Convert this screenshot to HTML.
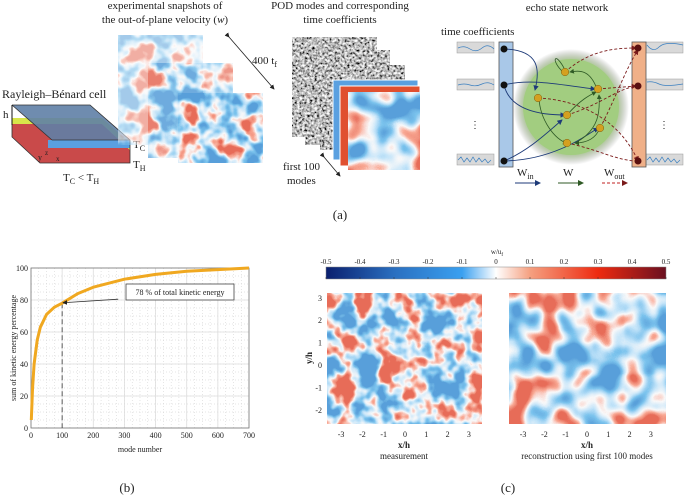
<!DOCTYPE html>
<html><head><meta charset="utf-8"><style>
body{margin:0;background:#fff;width:685px;height:498px;overflow:hidden;font-family:"Liberation Serif",serif;}
svg text{font-family:"Liberation Serif",serif;fill:#222;}
</style></head><body>
<svg id="fig" width="685" height="498" viewBox="0 0 685 498">
<defs>
 <filter id="rb1" x="0" y="0" width="100%" height="100%">
  <feTurbulence type="fractalNoise" baseFrequency="0.045" numOctaves="3" seed="3"/>
  <feColorMatrix type="matrix" values="1 0 0 0 0  1 0 0 0 0  1 0 0 0 0  0 0 0 0 1"/>
  <feComponentTransfer><feFuncR type="linear" slope="3" intercept="-1.05"/><feFuncG type="linear" slope="3" intercept="-1.05"/><feFuncB type="linear" slope="3" intercept="-1.05"/></feComponentTransfer>
  <feComponentTransfer><feFuncR type="table" tableValues="0.1 0.2 0.55 0.95 0.95 0.8"/><feFuncG type="table" tableValues="0.35 0.55 0.78 0.95 0.4 0.15"/><feFuncB type="table" tableValues="0.7 0.85 0.95 0.95 0.3 0.1"/></feComponentTransfer>
 </filter>
 <filter id="rb2" x="0" y="0" width="100%" height="100%">
  <feTurbulence type="fractalNoise" baseFrequency="0.032" numOctaves="2" seed="3"/>
  <feColorMatrix type="matrix" values="1 0 0 0 0  1 0 0 0 0  1 0 0 0 0  0 0 0 0 1"/>
  <feComponentTransfer><feFuncR type="linear" slope="3" intercept="-1.05"/><feFuncG type="linear" slope="3" intercept="-1.05"/><feFuncB type="linear" slope="3" intercept="-1.05"/></feComponentTransfer>
  <feComponentTransfer><feFuncR type="table" tableValues="0.1 0.2 0.55 0.95 0.95 0.8"/><feFuncG type="table" tableValues="0.35 0.55 0.78 0.95 0.4 0.15"/><feFuncB type="table" tableValues="0.7 0.85 0.95 0.95 0.3 0.1"/></feComponentTransfer>
 </filter>
 <filter id="gray" x="0" y="0" width="100%" height="100%">
  <feTurbulence type="fractalNoise" baseFrequency="0.4" numOctaves="2" seed="5"/>
  <feColorMatrix type="matrix" values="2 0 0 0 -0.5  2 0 0 0 -0.5  2 0 0 0 -0.5  0 0 0 0 1"/>
 </filter>
 <radialGradient id="glow"><stop offset="0.75" stop-color="#9fca7a"/><stop offset="1" stop-color="#777" stop-opacity="0"/></radialGradient>
 <linearGradient id="cmap" x1="0" x2="1"><stop offset="0" stop-color="#0a1f6e"/><stop offset="0.2" stop-color="#2a6fc0"/><stop offset="0.4" stop-color="#3aa0f0"/><stop offset="0.5" stop-color="#ffffff"/><stop offset="0.6" stop-color="#f5a080"/><stop offset="0.8" stop-color="#ee2a10"/><stop offset="1" stop-color="#6a1020"/></linearGradient>
 <marker id="ah" markerWidth="6" markerHeight="6" refX="5" refY="3" orient="auto"><path d="M0,0L6,3L0,6z" fill="#222"/></marker>
 <marker id="ab" markerWidth="6" markerHeight="6" refX="5" refY="3" orient="auto"><path d="M0,0L6,3L0,6z" fill="#1d3a78"/></marker>
 <marker id="ag" markerWidth="6" markerHeight="6" refX="5" refY="3" orient="auto"><path d="M0,0L6,3L0,6z" fill="#2f5a25"/></marker>
 <marker id="ar" markerWidth="6" markerHeight="6" refX="5" refY="3" orient="auto"><path d="M0,0L6,3L0,6z" fill="#7a1a1a"/></marker>
</defs>

<!-- (a) illustration -->
<g>
 <text x="2" y="98" font-size="12">Rayleigh–Bénard cell</text>
 <g>
  <polygon points="12,137 40,163 130,163 130,150 102,124 12,124" fill="#c94a4a"/>
  <polygon points="12,124 102,124 130,150 130,143 102,118 12,118" fill="#d8e64a"/>
  <polygon points="12,105 90,105 130,140 52,140" fill="#5f7fa6" opacity="0.9"/>
  <rect x="48" y="140" width="82" height="8" fill="#5aa0e0"/>
  <polyline points="12,105 90,105 130,140 130,163 40,163 12,137 12,105" fill="none" stroke="#333" stroke-width="0.8"/>
  <line x1="12" y1="105" x2="52" y2="140" stroke="#333" stroke-width="0.8"/>
  <line x1="52" y1="140" x2="130" y2="140" stroke="#333" stroke-width="0.8"/>
  <line x1="12" y1="105" x2="12" y2="125" stroke="#111" stroke-width="1"/>
  <text x="3" y="118" font-size="11">h</text>
  <text x="38" y="160" font-size="8">y</text><text x="45" y="155" font-size="7">z</text><text x="56" y="161" font-size="7">x</text>
  <text x="133" y="148" font-size="11">T<tspan font-size="8" dy="3">C</tspan></text>
  <text x="133" y="168" font-size="11">T<tspan font-size="8" dy="3">H</tspan></text>
  <text x="63" y="181" font-size="11">T<tspan font-size="8" dy="3">C</tspan><tspan dy="-3"> &lt; T</tspan><tspan font-size="8" dy="3">H</tspan></text>
 </g>
 <text x="165" y="9" font-size="11" text-anchor="middle">experimental snapshots of</text>
 <text x="165" y="23" font-size="11" text-anchor="middle">the out-of-plane velocity (<tspan font-style="italic">w</tspan>)</text>
 <g>
  <rect x="118" y="35" width="85" height="110" filter="url(#rb1)" opacity="0.55"/>
  <rect x="148" y="63" width="85" height="95" filter="url(#rb1)" opacity="0.7"/>
  <rect x="178" y="93" width="85" height="70" filter="url(#rb1)" stroke="#999" stroke-width="0.5"/>
 </g>
 <line x1="229" y1="37" x2="274" y2="89" stroke="#222" stroke-width="0.8" marker-end="url(#ah)" marker-start="url(#ah)"/>
 <text x="252" y="64" font-size="11">400 t<tspan font-size="8" dy="3">f</tspan></text>
 <text x="340" y="9" font-size="11" text-anchor="middle">POD modes and corresponding</text>
 <text x="340" y="23" font-size="11" text-anchor="middle">time coefficients</text>
 <g>
  <rect x="292" y="37" width="85" height="100" filter="url(#gray)"/>
  <rect x="305" y="50" width="85" height="95" filter="url(#gray)" stroke="#fff" stroke-width="1"/>
  <rect x="320" y="65" width="85" height="85" filter="url(#gray)" stroke="#fff" stroke-width="1"/>
  <rect x="333" y="80" width="85" height="80" fill="#5aa0e0" stroke="#fff"/>
  <rect x="340" y="86" width="80" height="80" fill="#e05030" stroke="#fff"/>
  <rect x="348" y="92" width="72" height="78" filter="url(#rb2)" stroke="#999" stroke-width="0.5"/>
 </g>
 <text x="283" y="170" font-size="11">first 100</text>
 <text x="287" y="184" font-size="11">modes</text>
 <line x1="324" y1="157" x2="340" y2="176" stroke="#222" stroke-width="0.8" marker-end="url(#ah)" marker-start="url(#ah)"/>
 <!-- ESN -->
 <g>
  <text x="567" y="11" font-size="11" text-anchor="middle">echo state network</text>
  <text x="441" y="35" font-size="11">time coefficients</text>
  <rect x="457" y="42" width="37" height="11" fill="#d9d9d9" stroke="#999" stroke-width="0.5"/>
  <rect x="457" y="79" width="37" height="11" fill="#d9d9d9" stroke="#999" stroke-width="0.5"/>
  <rect x="457" y="154" width="37" height="11" fill="#d9d9d9" stroke="#999" stroke-width="0.5"/>
  <path d="M458,48 q6,-3 12,1 t12,-1 t12,1" fill="none" stroke="#3a7fc0" stroke-width="0.7"/>
  <path d="M458,85 q6,-2 12,0 t12,-1 t12,1" fill="none" stroke="#3a7fc0" stroke-width="0.7"/>
  <path d="M458,160 l3,-3 l3,5 l3,-4 l3,4 l3,-5 l3,5 l3,-4 l3,4 l3,-3 l3,4 l3,-3 " fill="none" stroke="#3a7fc0" stroke-width="0.7"/>
  <rect x="646" y="42" width="37" height="11" fill="#d9d9d9" stroke="#999" stroke-width="0.5"/>
  <rect x="646" y="79" width="37" height="11" fill="#d9d9d9" stroke="#999" stroke-width="0.5"/>
  <rect x="646" y="154" width="37" height="11" fill="#d9d9d9" stroke="#999" stroke-width="0.5"/>
  <path d="M647,45 q6,8 12,2 t24,-2" fill="none" stroke="#3a7fc0" stroke-width="0.7"/>
  <path d="M647,82 q6,-1 12,2 t24,0" fill="none" stroke="#3a7fc0" stroke-width="0.7"/>
  <path d="M647,160 l3,-3 l3,5 l3,-4 l3,4 l3,-5 l3,5 l3,-4 l3,4 l3,-3 l3,4 l3,-3" fill="none" stroke="#3a7fc0" stroke-width="0.7"/>
  <text x="475" y="128" font-size="10" text-anchor="middle">⋮</text><text x="664" y="128" font-size="10" text-anchor="middle">⋮</text>
  <circle cx="571" cy="107" r="58" fill="url(#glow)"/>
  <circle cx="571" cy="107" r="48" fill="#a2cd80"/>
  <rect x="499" y="42" width="14" height="125" fill="#a9c8e8" stroke="#555" stroke-width="0.8"/>
  <rect x="632" y="42" width="14" height="125" fill="#f0b088" stroke="#555" stroke-width="0.8"/>
  <g fill="none" stroke="#1d3a78" stroke-width="0.9">
   <path d="M504,49 C540,50 540,70 535,90" marker-end="url(#ab)"/>
   <path d="M504,85 C530,78 560,85 595,89" marker-end="url(#ab)"/>
   <path d="M504,85 C510,110 540,115 565,115" marker-end="url(#ab)"/>
   <path d="M504,161 C530,150 550,130 562,120" marker-end="url(#ab)"/>
   <path d="M504,161 C550,160 580,140 598,128" marker-end="url(#ab)"/>
  </g>
  <g fill="none" stroke="#2f5a25" stroke-width="0.8">
   <path d="M563,72 C550,60 555,50 565,70"/>
   <path d="M597,89 C590,70 580,70 570,72" marker-end="url(#ag)"/>
   <path d="M539,98 C540,120 555,140 567,143" marker-end="url(#ag)"/>
   <path d="M600,128 C595,140 585,143 575,143" marker-end="url(#ag)"/>
   <path d="M567,115 C580,100 590,95 596,92" marker-end="url(#ag)"/>
   <path d="M575,143 C600,130 600,110 599,95" marker-end="url(#ag)"/>
  </g>
  <g fill="none" stroke="#7a1a1a" stroke-width="0.9" stroke-dasharray="3,2">
   <path d="M565,72 C590,50 615,48 636,48" marker-end="url(#ar)"/>
   <path d="M538,98 C580,100 620,120 638,161" marker-end="url(#ar)"/>
   <path d="M598,89 L636,86" marker-end="url(#ar)"/>
   <path d="M567,115 C600,105 615,90 636,86"/>
   <path d="M600,128 C615,100 625,70 638,50" marker-end="url(#ar)"/>
   <path d="M567,143 C600,150 615,160 636,161"/>
  </g>
  <g fill="#111"><circle cx="504" cy="49" r="3.5"/><circle cx="504" cy="85" r="3.5"/><circle cx="504" cy="161" r="3.5"/></g>
  <g fill="#d4a020" stroke="#7a6010" stroke-width="0.5"><circle cx="565" cy="72" r="3.8"/><circle cx="598" cy="89" r="3.8"/><circle cx="538" cy="98" r="3.8"/><circle cx="567" cy="115" r="3.8"/><circle cx="600" cy="128" r="3.8"/><circle cx="567" cy="143" r="3.8"/></g>
  <g fill="#5a1010"><circle cx="638" cy="48" r="3.5"/><circle cx="638" cy="86" r="3.5"/><circle cx="638" cy="161" r="3.5"/></g>
  <text x="517" y="176" font-size="11">W<tspan font-size="8" dy="3">in</tspan></text>
  <line x1="515" y1="183" x2="540" y2="183" stroke="#1d3a78" marker-end="url(#ab)"/>
  <text x="563" y="176" font-size="11">W</text>
  <line x1="558" y1="183" x2="583" y2="183" stroke="#2f5a25" marker-end="url(#ag)"/>
  <text x="604" y="176" font-size="11">W<tspan font-size="8" dy="3">out</tspan></text>
  <line x1="602" y1="183" x2="627" y2="183" stroke="#c02020" stroke-dasharray="3,2" marker-end="url(#ar)"/>
 </g>
 <text x="340" y="219" font-size="13" text-anchor="middle">(a)</text>
</g>

<!-- (b) chart -->
<g id="chartB"></g>
<text x="127" y="492" font-size="13" text-anchor="middle">(b)</text>

<!-- (c) -->
<g>
 <text x="497" y="254" font-size="7" text-anchor="middle">w/u<tspan font-size="5" dy="2">f</tspan></text>
 <rect x="326" y="267" width="340" height="12" fill="url(#cmap)" stroke="#888" stroke-width="0.5"/>
 <g id="cbTicks"></g>
 <rect x="327" y="293" width="155" height="131" filter="url(#rb1)" stroke="#888" stroke-width="0.8"/>
 <rect x="509" y="293" width="157" height="131" filter="url(#rb2)" stroke="#888" stroke-width="0.8"/>
 <g id="cAxes"></g>
 <text x="404" y="448" font-size="9" font-weight="bold" text-anchor="middle">x/h</text>
 <text x="404" y="459" font-size="9" text-anchor="middle">measurement</text>
 <text x="587" y="448" font-size="9" font-weight="bold" text-anchor="middle">x/h</text>
 <text x="587" y="459" font-size="9" text-anchor="middle">reconstruction using first 100 modes</text>
 <text x="312" y="358" font-size="9" font-weight="bold" text-anchor="middle" transform="rotate(-90 312 358)">y/h</text>
 <text x="508" y="492" font-size="13" text-anchor="middle">(c)</text>
</g>

<script>
const NS="http://www.w3.org/2000/svg";
const modes=[1,3,5,10,20,30,50,75,100,150,200,300,400,500,600,700];
const energy=[5,15,25,40,55,63,71,75.5,78,84,88,93,96,98,99,100];
const xTicks=[0,100,200,300,400,500,600,700];
const yTicks=[0,20,40,60,80,100];
const cbTickVals=[-0.5,-0.4,-0.3,-0.2,-0.1,0,0.1,0.2,0.3,0.4,0.5];
const hxTicks=[-3,-2,-1,0,1,2,3];
const hyTicks=[-2,-1,0,1,2,3];

function mk(tag,attrs,parent){const e=document.createElementNS(NS,tag);for(const k in attrs)e.setAttribute(k,attrs[k]);parent.appendChild(e);return e;}
const L=31,R=249,T=268,B=428;
const sx=v=>L+(v/700)*(R-L), sy=v=>B-(v/100)*(B-T);
const g=document.getElementById('chartB');
for(let v=0;v<=700;v+=25){mk('line',{x1:sx(v),x2:sx(v),y1:T,y2:B,stroke:'#ccc','stroke-width':0.5,'stroke-dasharray':'1,2'},g);}
for(let v=0;v<=100;v+=5){mk('line',{x1:L,x2:R,y1:sy(v),y2:sy(v),stroke:'#ccc','stroke-width':0.5,'stroke-dasharray':'1,2'},g);}
xTicks.forEach(v=>{mk('line',{x1:sx(v),x2:sx(v),y1:T,y2:B,stroke:'#ddd','stroke-width':0.8},g);
 const t=mk('text',{x:sx(v),y:B+10,'font-size':8,'text-anchor':'middle'},g);t.textContent=v;
 
 });
yTicks.forEach(v=>{mk('line',{x1:L,x2:R,y1:sy(v),y2:sy(v),stroke:'#ddd','stroke-width':0.8},g);
 const t=mk('text',{x:L-3,y:sy(v)+3,'font-size':8,'text-anchor':'end'},g);t.textContent=v;
 
 });
const fr=mk('rect',{x:L,y:T,width:R-L,height:B-T,fill:'none',stroke:'#777','stroke-width':0.8},g);


const dl=mk('line',{x1:sx(100),x2:sx(100),y1:sy(78),y2:B,stroke:'#333','stroke-width':0.8,'stroke-dasharray':'5,3'},g);


const curve=mk('polyline',{points:modes.map((m,i)=>sx(m)+','+sy(energy[i])).join(' '),fill:'none',stroke:'#f0a820','stroke-width':3,'stroke-linejoin':'round'},g);


const ar=mk('line',{x1:sx(280),y1:sy(80.5),x2:sx(103),y2:sy(78.3),stroke:'#333','stroke-width':0.8,'marker-end':'url(#ah)'},g);


const bx=mk('rect',{x:126,y:284,width:108,height:16,fill:'#fff',stroke:'#444','stroke-width':0.8},g);


const at=mk('text',{x:180,y:295,'font-size':8,'text-anchor':'middle'},g);at.textContent='78 % of total kinetic energy';


const xt=mk('text',{x:140,y:452,'font-size':8,'text-anchor':'middle'},g);xt.textContent='mode number';


const yt=mk('text',{x:16,y:348,'font-size':8,'text-anchor':'middle',transform:'rotate(-90 16 348)'},g);yt.textContent='sum of kinetic energy percentage';



const cb=document.getElementById('cbTicks');
cbTickVals.forEach(v=>{const x=326+(v+0.5)*340;
 mk('line',{x1:x,x2:x,y1:277,y2:279,stroke:'#333','stroke-width':0.5},cb);
 const t=mk('text',{x:x,y:264,'font-size':7,'text-anchor':'middle'},cb);t.textContent=v;
 
 });
const ca=document.getElementById('cAxes');
[[405,true],[587,false]].forEach(([x0,left])=>{
 hxTicks.forEach(v=>{const x=x0+v*21.3;
  const t=mk('text',{x:x,y:437,'font-size':8,'text-anchor':'middle'},ca);t.textContent=v;
  
  });
 if(left) hyTicks.forEach(v=>{const y=365-v*22.4;
  const t=mk('text',{x:322,y:y+3,'font-size':8,'text-anchor':'end'},ca);t.textContent=v;
  
  });
});
</script>
</svg>
</body></html>
